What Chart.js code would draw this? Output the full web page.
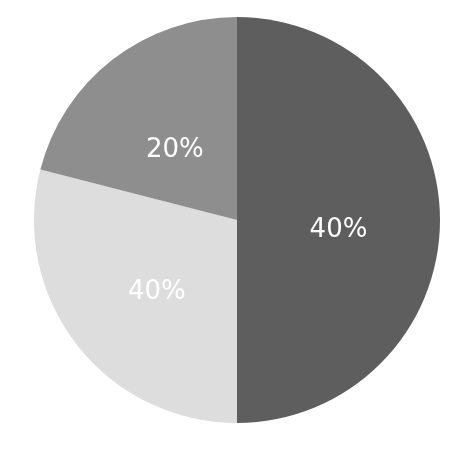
<!DOCTYPE html>
<html>
<head>
<script src="https://cdn.jsdelivr.net/npm/chart.js@4"></script>
<style>html,body{margin:0;padding:0;background:#fff}#c{display:block}</style>
</head>
<body>
<div style="width:474px;height:449px"><canvas id="c"></canvas></div>
<script>
var categories = ['A', 'B', 'C'];
var values = [50, 29, 21];
var labelTexts = ['40%', '40%', '20%'];
var colors = ['#5e5e5e', '#dddddd', '#8e8e8e'];

var labelPlugin = {
    id: 'sliceLabels',
    afterDatasetsDraw: function (chart) {
        var ctx = chart.ctx;
        var meta = chart.getDatasetMeta(0);
        ctx.save();
        ctx.fillStyle = '#fff';
        ctx.font = '26px "DejaVu Sans", sans-serif';
        ctx.textAlign = 'center';
        ctx.textBaseline = 'middle';
        meta.data.forEach(function (arc, i) {
            var p = arc.tooltipPosition();
            ctx.fillText(labelTexts[i], p.x, p.y + 10);
        });
        ctx.restore();
    }
};

new Chart(document.getElementById('c').getContext('2d'), {
    type: 'pie',
    data: {
        labels: categories,
        datasets: [{
            data: values,
            backgroundColor: colors,
            borderWidth: 0
        }]
    },
    options: {
        responsive: true,
        maintainAspectRatio: false,
        animation: false,
        layout: { padding: { top: 17, bottom: 26 } },
        plugins: { legend: { display: false }, tooltip: { enabled: false } }
    },
    plugins: [labelPlugin]
});
</script>
</body>
</html>
